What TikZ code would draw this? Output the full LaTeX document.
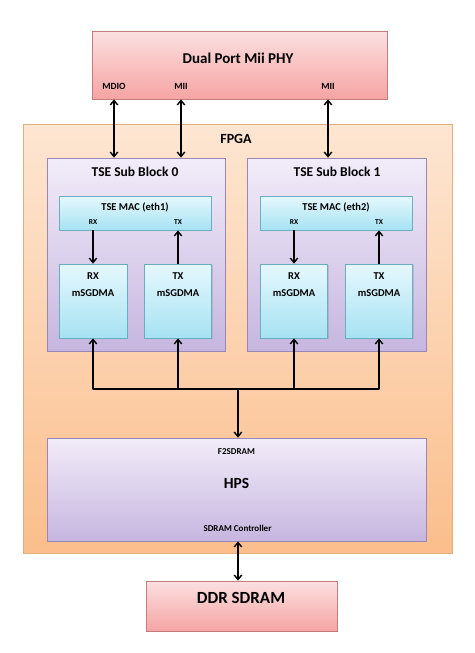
\documentclass[tikz,border=0pt]{standalone}
\usepackage{fontspec}
\setmainfont{Carlito}
\usetikzlibrary{arrows.meta,shadows}

\definecolor{phytop}{HTML}{FBE0E0}
\definecolor{phybot}{HTML}{F6A4A4}
\definecolor{phyline}{HTML}{C47C7C}
\definecolor{fpgatop}{HTML}{FDE6D2}
\definecolor{fpgabot}{HTML}{FBBE8C}
\definecolor{fpgaline}{HTML}{E2AE80}
\definecolor{subtop}{HTML}{F2ECF9}
\definecolor{subbot}{HTML}{C6B6E0}
\definecolor{subline}{HTML}{9A86B6}
\definecolor{dmatop}{HTML}{E6F8FD}
\definecolor{dmabot}{HTML}{A6E2F3}
\definecolor{dmaline}{HTML}{6AAEC2}

\tikzset{
  box/.style={rectangle, inner sep=0pt, line width=0.8pt,
    drop shadow={shadow xshift=1.2pt, shadow yshift=-1.2pt, opacity=0.25}},
  redbox/.style={box, draw=phyline, top color=phytop, bottom color=phybot},
  fpgabox/.style={box, draw=fpgaline, top color=fpgatop, bottom color=fpgabot},
  subbox/.style={box, draw=subline, top color=subtop, bottom color=subbot},
  dmabox/.style={box, draw=dmaline, top color=dmatop, bottom color=dmabot},
  lbl/.style={inner sep=0pt, font=\bfseries},
  bus/.style={line width=1.7pt},
}

\begin{document}
\begin{tikzpicture}[x=1pt,y=-1pt,>={Straight Barb[length=4.5pt,width=7.5pt,line width=1.4pt]}]
    \useasboundingbox (0,0) rectangle (474,653);

    % boxes
    \node[fpgabox, minimum width=429pt, minimum height=429pt] (fpga) at (237.5,338.5) {};
    \node[redbox, minimum width=295pt, minimum height=68pt] (phy) at (239.5,65) {};
    \node[subbox, minimum width=178pt, minimum height=193pt] (sb0) at (136,254.5) {};
    \node[subbox, minimum width=179pt, minimum height=193pt] (sb1) at (336.5,254.5) {};
    \node[dmabox, minimum width=152pt, minimum height=34pt] (mac0) at (135,213) {};
    \node[dmabox, minimum width=152pt, minimum height=34pt] (mac1) at (336,213) {};
    \node[dmabox, minimum width=68pt, minimum height=74pt] (rx0) at (93,301) {};
    \node[dmabox, minimum width=67pt, minimum height=74pt] (tx0) at (178,301) {};
    \node[dmabox, minimum width=67pt, minimum height=74pt] (rx1) at (294,301) {};
    \node[dmabox, minimum width=67pt, minimum height=74pt] (tx1) at (379,301) {};
    \node[subbox, minimum width=379pt, minimum height=103pt] (hps) at (236.5,489.5) {};
    \node[redbox, minimum width=191pt, minimum height=50pt] (ddr) at (241.5,606) {};

    % texts
    \node[lbl, font=\bfseries\fontsize{15}{18}\selectfont] (phyname) at (238,58) {Dual Port Mii PHY};
    \node[lbl, font=\bfseries\fontsize{9.5}{11}\selectfont] (mdio) at (114,86) {MDIO};
    \node[lbl, font=\bfseries\fontsize{9.5}{11}\selectfont] (mii0) at (181,86) {MII};
    \node[lbl, font=\bfseries\fontsize{9.5}{11}\selectfont] (mii1) at (328,86) {MII};
    \node[lbl, font=\bfseries\fontsize{14}{17}\selectfont] (fpganame) at (236,139) {FPGA};
    \node[lbl, font=\bfseries\fontsize{13.5}{16}\selectfont] (sb0name) at (135,172) {TSE Sub Block 0};
    \node[lbl, font=\bfseries\fontsize{13.5}{16}\selectfont] (sb1name) at (337,172) {TSE Sub Block 1};
    \node[lbl, font=\bfseries\fontsize{10.5}{13}\selectfont] (mac0name) at (135,207) {TSE MAC (eth1)};
    \node[lbl, font=\bfseries\fontsize{10.5}{13}\selectfont] (mac1name) at (336,207) {TSE MAC (eth2)};
    \node[lbl, font=\bfseries\fontsize{7.5}{9}\selectfont] (mac0rx) at (93,222) {RX};
    \node[lbl, font=\bfseries\fontsize{7.5}{9}\selectfont] (mac0tx) at (178,222) {TX};
    \node[lbl, font=\bfseries\fontsize{7.5}{9}\selectfont] (mac1rx) at (294,222) {RX};
    \node[lbl, font=\bfseries\fontsize{7.5}{9}\selectfont] (mac1tx) at (379,222) {TX};
    \foreach \b/\t in {rx0/RX, tx0/TX, rx1/RX, tx1/TX}
        \node[lbl, align=center, anchor=north, font=\bfseries\fontsize{10.5}{17}\selectfont]
            (\b name) at ([yshift=-9pt]\b.north) {\t\\mSGDMA};
    \node[lbl, font=\bfseries\fontsize{9}{11}\selectfont] (f2s) at (236.5,452) {F2SDRAM};
    \node[lbl, font=\bfseries\fontsize{15.5}{18}\selectfont] (hpsname) at (236.5,483) {HPS};
    \node[lbl, font=\bfseries\fontsize{9}{11}\selectfont] (sdc) at (237.5,528) {SDRAM Controller};
    \node[lbl, font=\bfseries\fontsize{17}{20}\selectfont] (ddrname) at (241,598) {DDR SDRAM};

    % PHY links
    \draw[<->, bus] (mdio |- phy.south) -- (mdio |- sb0.north);
    \draw[<->, bus] (mii0 |- phy.south) -- (mii0 |- sb0.north);
    \draw[<->, bus] (mii1 |- phy.south) -- (mii1 |- sb1.north);

    % MAC to DMA
    \draw[->, bus] (mac0.south -| rx0) -- (rx0.north);
    \draw[->, bus] (tx0.north) -- (mac0.south -| tx0);
    \draw[->, bus] (mac1.south -| rx1) -- (rx1.north);
    \draw[->, bus] (tx1.north) -- (mac1.south -| tx1);

    % bus to HPS
    \coordinate (busmid) at (238,389);
    \draw[bus, line cap=round] (rx0 |- busmid) -- (tx1 |- busmid);
    \foreach \b in {rx0, tx0, rx1, tx1}
        \draw[->, bus] (\b |- busmid) -- (\b.south);
    \draw[->, bus] (busmid) -- (busmid |- hps.north);

    % HPS to DDR
    \draw[<->, bus] (busmid |- hps.south) -- (busmid |- ddr.north);
\end{tikzpicture}
\end{document}
